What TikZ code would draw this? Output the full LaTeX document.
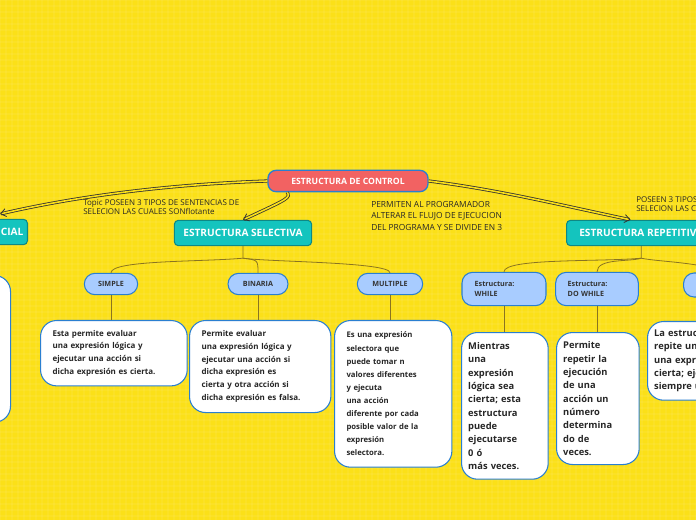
\documentclass[tikz,border=0pt]{standalone}
\usepackage{fontspec}
\setmainfont{Open Sans}
\usetikzlibrary{arrows.meta}
\definecolor{bg}{HTML}{FBE018}
\definecolor{teal}{HTML}{14C4BE}
\definecolor{rootc}{HTML}{F26262}
\definecolor{bord}{HTML}{2A7FD0}
\definecolor{sub}{HTML}{A8CCFF}
\definecolor{line}{HTML}{8A7420}
\tikzset{
 x=0.75pt,y=-0.75pt,
 rootbox/.style={draw=bord,line width=1pt,fill=rootc,rounded corners=6pt,text=white,font=\bfseries\fontsize{6.5}{8}\selectfont,minimum width=120pt,minimum height=16pt},
 mainbox/.style={draw=teal!70!black,line width=0.8pt,fill=teal,rounded corners=3pt,text=white,font=\bfseries\fontsize{7.6}{10}\selectfont,minimum height=19pt,inner xsep=3pt},
 subbox/.style={draw=bord,line width=0.8pt,fill=sub,rounded corners=8pt,text=black!80,font=\bfseries\fontsize{5.4}{8}\selectfont,minimum height=16pt,align=left},
 txtbox/.style={draw=bord,line width=0.8pt,fill=white,rounded corners=12pt,text=black!85,font=\bfseries\fontsize{6}{9.5}\selectfont,align=left,anchor=north west,inner sep=0pt},
 note/.style={font=\fontsize{6}{7}\selectfont,align=left,anchor=north west,inner sep=0pt,text=black!85},
 thin/.style={draw=line,line width=0.6pt},
 dbl/.style={double=bg,double distance=1.2pt,line width=0.6pt,draw=black!80,-{Straight Barb[open,length=4pt,width=6pt]}}
}
\begin{document}
\begin{tikzpicture}
\useasboundingbox (0,0) rectangle (696,520);
\clip (0,0) rectangle (696,520);
\fill[bg] (0,0) rectangle (696,520);
\foreach \i in {0,6,...,696} \draw[white,opacity=0.06,line width=1.2pt] (\i,0) -- (\i,520);
\foreach \i in {0,6,...,520} \draw[white,opacity=0.06,line width=1.2pt] (0,\i) -- (696,\i);

\node[rootbox] (root) at (348,181) {ESTRUCTURA DE CONTROL};
\node[mainbox,minimum width=98pt,anchor=east] (seq) at (28,232) {ESTRUCTURA SECUENCIAL};
\node[mainbox,minimum width=103pt] (sel) at (243,233) {ESTRUCTURA SELECTIVA};
\node[mainbox,minimum width=112pt,anchor=west] (rep) at (566,233) {ESTRUCTURA REPETITIVA};

\draw[dbl] (root.west) .. controls (150,185) and (60,200) .. (0,214);
\draw[dbl] (root.south west) ++(20,0) .. controls (290,198) .. (sel.north);
\draw[dbl] (root.east) .. controls (500,190) and (560,205) .. ([xshift=-8pt]rep.north);

\node[note] (n1) at (83,199) {Topic POSEEN 3 TIPOS DE SENTENCIAS DE\\SELECION LAS CUALES SONflotante};
\node[note,font=\fontsize{6.3}{8.5}\selectfont] (n2) at (371,201) {PERMITEN AL PROGRAMADOR\\ALTERAR EL FLUJO DE EJECUCION\\DEL PROGRAMA Y SE DIVIDE EN 3};
\node[note] (n3) at (636,196) {POSEEN 3 TIPOS DE SENTENCIAS DE\\SELECION LAS CUALES SON};

\node[subbox,minimum width=40pt] (simple) at (111,284) {SIMPLE};
\node[subbox,minimum width=45pt] (bin) at (258,284) {BINARIA};
\node[subbox,minimum width=49pt] (mul) at (390,284) {MULTIPLE};
\node[subbox,minimum width=63pt,minimum height=25pt,text width=44pt] (wh) at (504,289) {Estructura:\\WHILE};
\node[subbox,minimum width=62pt,minimum height=25pt,text width=44pt] (dw) at (597,289) {Estructura:\\DO WHILE};
\node[subbox,minimum width=62pt,minimum height=18pt,anchor=west] (for) at (683,285) {\phantom{X}};

\draw[thin] (sel.south) -- ++(0,12) .. controls (200,262) and (111,260) .. (simple.north);
\draw[thin] (sel.south) ++(0,12) .. controls (258,260) .. (bin.north);
\draw[thin] (sel.south) ++(0,12) .. controls (270,262) and (390,262) .. (mul.north);
\draw[thin] (rep.south) -- ++(0,12) .. controls (600,262) and (504,258) .. (wh.north);
\draw[thin] (rep.south) ++(0,12) .. controls (630,262) and (597,258) .. (dw.north);
\draw[thin] (rep.south) ++(0,12) .. controls (660,262) and (700,262) .. (for.north);
\draw[thin] (seq.south) -- ++(0,20);

\node[txtbox,minimum width=45pt,minimum height=110pt] (t0) at (-50,275) {};
\node[txtbox,minimum width=106pt,minimum height=49pt,text width=92pt,inner xsep=9pt] (t1) at (40,320) {Esta permite evaluar\\una expresión lógica y\\ejecutar una acción si\\dicha expresión es cierta.};
\node[txtbox,minimum width=103pt,minimum height=69pt,text width=88pt,inner xsep=9pt] (t2) at (189,320) {Permite evaluar\\una expresión lógica y\\ejecutar una acción si\\dicha expresión es\\cierta y otra acción si\\dicha expresión es falsa.};
\node[txtbox,minimum width=84pt,minimum height=110pt,text width=70pt,inner xsep=9pt,font=\bfseries\fontsize{5.8}{9.8}\selectfont] (t3) at (334,320) {Es una expresión\\selectora que\\puede tomar n\\valores diferentes\\y ejecuta\\una acción\\diferente por cada\\posible valor de la\\expresión\\selectora.};
\node[txtbox,minimum width=65pt,minimum height=110pt,text width=55pt,inner xsep=5pt,font=\bfseries\fontsize{7}{10}\selectfont] (t4) at (461,332) {Mientras\\una\\expresión\\lógica sea\\cierta; esta\\estructura\\puede\\ejecutarse\\0 ó\\más veces.};
\node[txtbox,minimum width=62pt,minimum height=99pt,text width=52pt,inner xsep=5pt,font=\bfseries\fontsize{7}{10}\selectfont] (t5) at (556,332) {Permite\\repetir la\\ejecución\\de una\\acción un\\número\\determina\\do de\\veces.};
\node[txtbox,minimum width=90pt,minimum height=59pt,text width=80pt,inner xsep=5pt,font=\bfseries\fontsize{7}{10}\selectfont] (t6) at (647,321) {La estructura\\repite una acción\\una expresión\\cierta; ejecuta\\siempre una vez};

\draw[thin] (simple.south) -- (t1.north -| simple.south);
\draw[thin] (bin.south) -- (t2.north -| bin.south);
\draw[thin] (mul.south) -- (t3.north -| mul.south);
\draw[thin] (wh.south) -- (t4.north -| wh.south);
\draw[thin] (dw.south) -- (t5.north -| dw.south);
\end{tikzpicture}
\end{document}
